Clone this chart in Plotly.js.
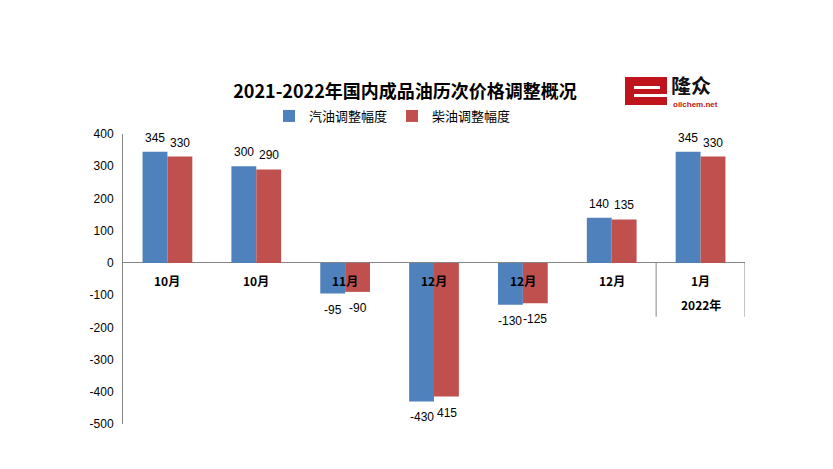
<!DOCTYPE html>
<html>
<head>
<meta charset="utf-8">
<script src="https://cdn.plot.ly/plotly-3.0.1.min.js"></script>
<style>html,body{margin:0;padding:0;background:#fff;}#chart{width:833px;height:469px;}</style>
</head>
<body>
<div id="chart"></div>
<script>
const categories = ["10月", "10月", "11月", "12月", "12月", "12月", "1月"];
const yearLabels = ["", "", "", "", "", "", "2022年"];
const gasoline = [345, 300, -95, -430, -130, 140, 345];
const diesel = [330, 290, -90, -415, -125, 135, 330];
const gasolineLabels = ["345", "300", "-95", "-430", "-130", "140", "345"];
const dieselLabels = ["330", "290", "-90", "415", "-125", "135", "330"];
const seriesNames = ["汽油调整幅度", "柴油调整幅度"];
const yTicks = [400, 300, 200, 100, 0, -100, -200, -300, -400, -500];

const idx = categories.map((_, i) => i);
const numFont = {family: "Liberation Sans, Arial, sans-serif", size: 12, color: "#000"};
const catFont = {family: "Noto Sans CJK SC, sans-serif", size: 12, color: "#000"};

const traces = [
  {type: "bar", name: seriesNames[0], x: idx, y: gasoline,
   marker: {color: "#4F81BD"}, hoverinfo: "y"},
  {type: "bar", name: seriesNames[1], x: idx, y: diesel,
   marker: {color: "#C0504D"}, hoverinfo: "y"}
];

const annotations = [];
// data labels placed a little off the bar ends, as in the reference
function addLabels(values, labels, side) {
  values.forEach((v, i) => {
    annotations.push({x: i, y: v, xref: "x", yref: "y", text: labels[i], showarrow: false,
      xanchor: "center", yanchor: "middle", xshift: side * 12.5, yshift: v >= 0 ? 14 : -16, font: numFont});
  });
}
addLabels(gasoline, gasolineLabels, -1);
addLabels(diesel, dieselLabels, 1);

categories.forEach((c, i) => {
  annotations.push({x: i, y: 0, xref: "x", yref: "y", text: "<b>" + c + "</b>", showarrow: false,
    yanchor: "top", yshift: -7, font: catFont});
  if (yearLabels[i]) {
    annotations.push({x: i, y: 0, xref: "x", yref: "y", text: "<b>" + yearLabels[i] + "</b>", showarrow: false,
      yanchor: "top", yshift: -31, font: catFont});
  }
});

const px = v => (v - 123) / 622;
const py = v => (424 - v) / 290;
// logo text
annotations.push({xref: "paper", yref: "paper", x: px(669), y: py(85), xanchor: "left", yanchor: "middle", height: 19,
  text: "<b>隆众</b>", showarrow: false, font: {family: "Noto Sans CJK SC, sans-serif", size: 20, color: "#111"}});
annotations.push({xref: "paper", yref: "paper", x: px(671), y: py(104.5), xanchor: "left", yanchor: "middle", height: 8,
  text: "<b>oilchem.net</b>", showarrow: false, font: {family: "Liberation Sans, Arial, sans-serif", size: 8, color: "#C0141C"}});

const shapes = [
  {type: "line", xref: "x", yref: "y", x0: 5.5, x1: 5.5, y0: 0, y1: -167, line: {color: "#868686", width: 1}},
  {type: "line", xref: "x", yref: "y", x0: 6.5, x1: 6.5, y0: 0, y1: -167, line: {color: "#868686", width: 1}},
  // logo "e" block
  {type: "rect", xref: "paper", yref: "paper", x0: px(625), x1: px(667), y0: py(105), y1: py(77), fillcolor: "#C0141C", line: {width: 0}},
  {type: "rect", xref: "paper", yref: "paper", x0: px(634), x1: px(660), y0: py(89), y1: py(86), fillcolor: "#fff", line: {width: 0}},
  {type: "rect", xref: "paper", yref: "paper", x0: px(634), x1: px(668), y0: py(97), y1: py(94), fillcolor: "#fff", line: {width: 0}}
];

const layout = {
  width: 833, height: 469,
  margin: {l: 123, r: 88, t: 134, b: 45},
  paper_bgcolor: "#fff", plot_bgcolor: "#fff",
  barmode: "group", bargap: 0.44, bargroupgap: 0,
  title: {text: "<b>2021-2022年国内成品油历次价格调整概况</b>", x: 405 / 833, xanchor: "center", xref: "container",
    y: 1 - 92 / 469, yanchor: "middle", font: {family: "Noto Sans CJK SC, sans-serif", size: 18, color: "#000"}},
  showlegend: true,
  legend: {orientation: "h", x: px(269), y: py(116), xanchor: "left", yanchor: "middle",
    font: {family: "Noto Sans CJK SC, sans-serif", size: 13, color: "#000"}, itemwidth: 30, bgcolor: "rgba(0,0,0,0)"},
  xaxis: {range: [-0.5, 6.5], showticklabels: false, showgrid: false, zeroline: false, showline: false, ticks: "", fixedrange: true},
  yaxis: {range: [-500, 400], tickvals: yTicks, ticktext: yTicks.map(String), showgrid: false,
    zeroline: true, zerolinecolor: "#868686", zerolinewidth: 1, ticklabelstandoff: 6,
    showline: true, linecolor: "#868686", linewidth: 1, ticks: "", tickfont: numFont, fixedrange: true},
  annotations: annotations,
  shapes: shapes
};

Plotly.newPlot("chart", traces, layout, {displayModeBar: false, staticPlot: true});
</script>
</body>
</html>
